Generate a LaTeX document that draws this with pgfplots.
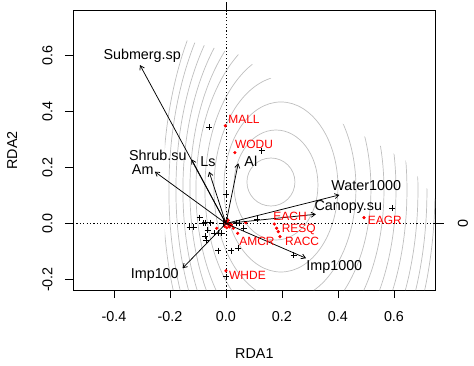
\documentclass[border=0pt]{standalone}
\usepackage{pgfplots}
\pgfplotsset{compat=1.18}
\usepackage{fontspec}
\setmainfont{Liberation Sans}
\usetikzlibrary{arrows.meta}

\pgfplotstableread{
x y
-0.060 0.344
0.1275 0.260
0.000 0.106
-0.094 0.021
-0.130 -0.013
-0.115 -0.013
-0.073 0.003
-0.055 0.003
-0.081 0.000
-0.065 -0.025
-0.075 -0.045
-0.071 -0.060
-0.042 -0.035
-0.027 -0.035
-0.015 -0.035
-0.027 -0.097
0.019 -0.097
0.044 -0.087
0.000 -0.190
0.036 0.002
0.048 0.002
0.063 -0.016
0.112 0.015
0.242 -0.112
0.594 0.054
0.005 0.010
-0.010 0.000
}\sites

\pgfplotstableread{
x y
-0.002 0.349
0.032 0.253
0.1726 -0.002
0.071 0.003
0.181 -0.017
0.187 -0.029
0.193 -0.047
0.042 -0.035
0.493 0.021
0.000 -0.169
-0.033 -0.017
0.026 -0.017
0.000 0.000
0.005 0.005
0.010 -0.005
-0.005 -0.010
0.008 0.012
0.003 -0.015
0.015 0.000
-0.003 0.008
0.012 -0.012
0.020 -0.005
}\spp

\tikzset{arr/.style={black, line width=0.75bp, -{Straight Barb[length=4bp,width=5bp]}}}

\begin{document}
\begin{tikzpicture}
\begin{axis}[
  at={(0,0)}, anchor=south west,
  scale only axis, width=362.7bp, height=279.3bp,
  xmin=-0.546, xmax=0.749, ymin=-0.2375, ymax=0.76,
  clip mode=individual,
  axis line style={black, line width=0.8bp},
  xtick={-0.4,-0.2,0,0.2,0.4,0.6},
  xticklabels={-0.4,-0.2,0.0,0.2,0.4,0.6},
  ytick={-0.2,0,0.2,0.4,0.6},
  yticklabels={-0.2,0.0,0.2,0.4,0.6},
  tick align=outside, tick pos=left,
  major tick length=8bp,
  tick style={black, line width=0.7bp},
  ticklabel style={font=\fontsize{14.4}{16}\selectfont},
  yticklabel style={rotate=90, anchor=south},
  xticklabel shift=10bp,
  yticklabel shift=9bp,
]
% contour surface (ordisurf)
\begin{scope}
\clip (axis cs:-0.2179,-0.2375) -- (axis cs:-0.2179,0.4411) -- (axis cs:-0.1464,0.6554) -- (axis cs:0.05,0.6018) -- (axis cs:0.2393,0.4589) -- (axis cs:0.6393,0.2268) -- (axis cs:0.749,0.0839) -- (axis cs:0.749,-0.2375) -- cycle;
\begin{scope}[gray!50, line width=0.7bp]
\draw (axis cs:0.1607,0.1482) ellipse [x radius=0.0857, y radius=0.0857];
\draw (axis cs:0.1786,0.1375) ellipse [x radius=0.15, y radius=0.1964];
\draw (axis cs:0.1964,0.1304) ellipse [x radius=0.2036, y radius=0.3036];
\draw (axis cs:0.2107,0.1268) ellipse [x radius=0.2536, y radius=0.4];
\draw (axis cs:0.2214,0.1232) ellipse [x radius=0.2964, y radius=0.4929];
\draw (axis cs:0.2286,0.1196) ellipse [x radius=0.3357, y radius=0.5786];
\draw (axis cs:0.2393,0.1196) ellipse [x radius=0.3679, y radius=0.6607];
\draw (axis cs:0.2464,0.1196) ellipse [x radius=0.4, y radius=0.7321];
\draw (axis cs:0.2536,0.1196) ellipse [x radius=0.4321, y radius=0.8036];
\draw (axis cs:0.2571,0.1196) ellipse [x radius=0.4607, y radius=0.875];
\draw (axis cs:0.2607,0.1196) ellipse [x radius=0.4857, y radius=0.9357];
\end{scope}
\end{scope}
% zero lines
\draw[black, line width=0.7bp, dash pattern=on 1.2bp off 2.2bp] (axis cs:0,-0.2375) -- (axis cs:0,0.76);
\draw[black, line width=0.7bp, dash pattern=on 1.2bp off 2.2bp] (axis cs:-0.546,0) -- (axis cs:0.749,0);
% secondary axes ticks
\draw[black, line width=0.7bp] (axis cs:0.749,0) -- ([xshift=8bp]axis cs:0.749,0);
\node[rotate=90, font=\fontsize{14.4}{16}\selectfont] at ([xshift=27.3bp]axis cs:0.749,0) {0};
\draw[black, line width=0.7bp] (axis cs:0,0.76) -- ([yshift=9bp]axis cs:0,0.76);
% axis titles
\node[font=\fontsize{14.4}{16}\selectfont] at ([yshift=-64bp]axis description cs:0.5,0) {RDA1};
\node[rotate=90, font=\fontsize{14.4}{16}\selectfont] at ([xshift=-61bp]axis description cs:0,0.5) {RDA2};
% site scores
\addplot[only marks, mark=+, mark size=3bp, black, line width=0.6bp] table {\sites};
% species scores
\addplot[only marks, mark=*, mark size=1.4bp, red, draw=red] table {\spp};
% biplot arrows
\addplot[arr] coordinates {(0,0) (-0.307,0.566)};
\addplot[arr] coordinates {(0,0) (-0.1225,0.229)};
\addplot[arr] coordinates {(0,0) (-0.060,0.185)};
\addplot[arr] coordinates {(0,0) (-0.254,0.185)};
\addplot[arr] coordinates {(0,0) (0.044,0.215)};
\addplot[arr] coordinates {(0,0) (-0.155,-0.160)};
\addplot[arr] coordinates {(0,0) (0.405,0.102)};
\addplot[arr] coordinates {(0,0) (0.321,0.033)};
\addplot[arr] coordinates {(0,0) (0.286,-0.124)};
% arrow labels
\begin{scope}[every node/.style={font=\fontsize{14.4}{16}\selectfont, inner sep=0pt, anchor=center}]
\node at (axis cs:-0.299,0.598) {Submerg.sp};
\node at (axis cs:-0.243,0.242) {Shrub.su};
\node at (axis cs:-0.297,0.191) {Am};
\node at (axis cs:-0.064,0.221) {Ls};
\node at (axis cs:0.089,0.221) {Al};
\node at (axis cs:-0.254,-0.184) {Imp100};
\node at (axis cs:0.501,0.134) {Water1000};
\node at (axis cs:0.437,0.058) {Canopy.su};
\node at (axis cs:0.387,-0.154) {Imp1000};
\end{scope}
% species labels
\begin{scope}[every node/.style={font=\fontsize{12}{14}\selectfont, text=red, inner sep=0pt, anchor=west}]
\node at (axis cs:0.008,0.373) {MALL};
\node at (axis cs:0.032,0.284) {WODU};
\node at (axis cs:0.169,0.027) {EACH};
\node at (axis cs:0.199,-0.023) {RESQ};
\node at (axis cs:0.211,-0.0625) {RACC};
\node at (axis cs:0.0475,-0.0625) {AMCR};
\node at (axis cs:0.506,0.0125) {EAGR};
\node at (axis cs:0.011,-0.186) {WHDE};
\end{scope}
\end{axis}
\pgfresetboundingbox
\path[use as bounding box] (-73bp,-76bp) rectangle (401bp,290bp);
\end{tikzpicture}
\end{document}
